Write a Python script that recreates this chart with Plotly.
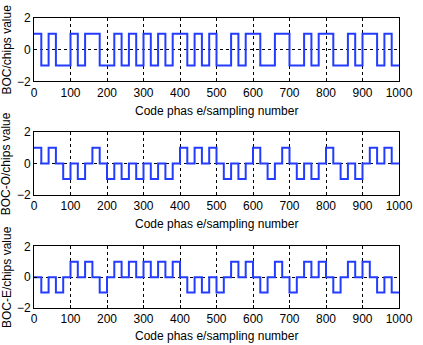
import plotly.graph_objects as go

# 50 code segments of 20 samples each (0..1000)
segment_len = 20
boc_chips = [1, -1, 1, -1, -1, 1, -1, 1, 1, -1,
             -1, 1, -1, 1, -1, 1, -1, 1, -1, 1,
             1, -1, 1, -1, 1, -1, -1, 1, -1, 1,
             1, -1, -1, 1, 1, -1, -1, 1, -1, 1,
             1, -1, -1, 1, -1, 1, 1, -1, 1, -1]
boc_o_chips = [1, 0, 1, 0, -1, 0, -1, 0, 1, 0,
               -1, 0, -1, 0, -1, 0, -1, 0, -1, 0,
               1, 0, 1, 0, 1, 0, -1, 0, -1, 0,
               1, 0, -1, 0, 1, 0, -1, 0, -1, 0,
               1, 0, -1, 0, -1, 0, 1, 0, 1, 0]
boc_e_chips = [0, -1, 0, -1, 0, 1, 0, 1, 0, -1,
               0, 1, 0, 1, 0, 1, 0, 1, 0, 1,
               0, -1, 0, -1, 0, -1, 0, 1, 0, 1,
               0, -1, 0, 1, 0, -1, 0, 1, 0, 1,
               0, -1, 0, 1, 0, 1, 0, -1, 0, -1]
x_ticks = [0, 100, 200, 300, 400, 500, 600, 700, 800, 900, 1000]
y_ticks = [-2, 0, 2]
y_titles = ["BOC/chips value", "BOC-O/chips value", "BOC-E/chips value"]
x_title = "Code phas e/sampling number"

edges = [i * segment_len for i in range(len(boc_chips) + 1)]

W, H = 423, 345
ML, MR, MT, MB = 34, 13, 10, 37
plot_h = H - MT - MB
plot_w = W - ML - MR

def fy(pix):
    return (H - MB - pix) / plot_h

domains = [(fy(76), fy(11)), (fy(192), fy(128)), (fy(308), fy(245))]
title_y = [106, 222, 337]

fig = go.Figure()
font = dict(family="Liberation Sans, Arial, sans-serif", size=12, color="black")
blue = "rgb(35,60,255)"

for i, series in enumerate([boc_chips, boc_o_chips, boc_e_chips]):
    n = "" if i == 0 else str(i + 1)
    fig.add_trace(go.Scatter(
        x=edges, y=series + [series[-1]], mode="lines", line_shape="hv",
        line=dict(color=blue, width=2), xaxis="x" + n, yaxis="y" + n,
        showlegend=False, hoverinfo="skip", cliponaxis=False))
    common = dict(showline=True, mirror=True, linecolor="black", linewidth=1,
                  ticks="inside", ticklen=3, tickcolor="black",
                  showgrid=True, gridcolor="black", gridwidth=1, griddash="3px,3px",
                  zeroline=False, tickfont=font, ticklabeloverflow="allow")
    fig.layout["xaxis" + n] = dict(domain=[0, 1], range=[0, 1000], tickvals=x_ticks,
                                   anchor="y" + n, **common)
    fig.layout["yaxis" + n] = dict(domain=list(domains[i]), range=[-2, 2], tickvals=y_ticks,
                                   anchor="x" + n, **common)
    fig.add_annotation(text=x_title, xref="paper", yref="paper",
                       x=0.5, y=fy(title_y[i]), xanchor="center", yanchor="middle",
                       showarrow=False, font=font)
    fig.add_annotation(text=y_titles[i], xref="paper", yref="paper",
                       x=(6 - ML) / plot_w, y=(domains[i][0] + domains[i][1]) / 2,
                       xanchor="center", yanchor="middle", textangle=-90,
                       showarrow=False, font=font)

fig.update_layout(width=W, height=H, margin=dict(l=ML, r=MR, t=MT, b=MB),
                  paper_bgcolor="white", plot_bgcolor="white")
fig.write_html("out.html", config={"displayModeBar": False},
               post_script="document.body.style.margin='0';document.body.style.overflow='hidden';")
